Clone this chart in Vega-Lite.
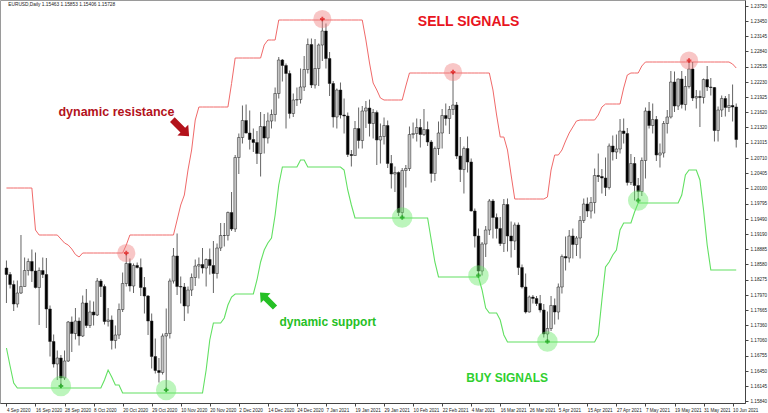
{
"$schema":"https://vega.github.io/schema/vega-lite/v6.json",
"width":745,"height":403,
"autosize":{"type":"none"},
"padding":{"left":0,"top":0,"right":23,"bottom":10},
"background":"white",
"config":{"view":{"stroke":"#9a9a9a","strokeWidth":1},"axis":{"labelFont":"Liberation Sans","labelFontSize":4.6,"labelColor":"#1a1a1a","tickColor":"#444444","domainColor":"#444444","grid":false,"labelOverlap":false,"labelFlush":false}},
"data":{"values":[
{"i":0,"o":1.1851,"h":1.1866,"l":1.1781,"c":1.1838,"r":1.2011,"s":1.1691},
{"i":1,"o":1.1838,"h":1.1843,"l":1.1810,"c":1.1818,"r":1.2011,"s":1.1655},
{"i":2,"o":1.1818,"h":1.1826,"l":1.1765,"c":1.1779,"r":1.2011,"s":1.1621},
{"i":3,"o":1.1779,"h":1.1826,"l":1.1772,"c":1.1801,"r":1.2011,"s":1.1611},
{"i":4,"o":1.1801,"h":1.1917,"l":1.1799,"c":1.1814,"r":1.2011,"s":1.1611},
{"i":5,"o":1.1814,"h":1.1872,"l":1.1814,"c":1.1846,"r":1.2011,"s":1.1611},
{"i":6,"o":1.1846,"h":1.1870,"l":1.1836,"c":1.1864,"r":1.2011,"s":1.1611},
{"i":7,"o":1.1864,"h":1.1888,"l":1.1823,"c":1.1845,"r":1.2011,"s":1.1611},
{"i":8,"o":1.1845,"h":1.1882,"l":1.1810,"c":1.1812,"r":1.1927,"s":1.1611},
{"i":9,"o":1.1812,"h":1.1852,"l":1.1737,"c":1.1846,"r":1.1917,"s":1.1611},
{"i":10,"o":1.1846,"h":1.1872,"l":1.1831,"c":1.1838,"r":1.1917,"s":1.1611},
{"i":11,"o":1.1838,"h":1.1871,"l":1.1731,"c":1.1769,"r":1.1917,"s":1.1611},
{"i":12,"o":1.1769,"h":1.1776,"l":1.1674,"c":1.1704,"r":1.1917,"s":1.1611},
{"i":13,"o":1.1704,"h":1.1718,"l":1.1652,"c":1.1659,"r":1.1917,"s":1.1611},
{"i":14,"o":1.1659,"h":1.1686,"l":1.1627,"c":1.1671,"r":1.1917,"s":1.1611},
{"i":15,"o":1.1671,"h":1.1677,"l":1.1612,"c":1.1631,"r":1.1909,"s":1.1611},
{"i":16,"o":1.1631,"h":1.1686,"l":1.1627,"c":1.1665,"r":1.1901,"s":1.1611},
{"i":17,"o":1.1665,"h":1.1745,"l":1.1663,"c":1.1743,"r":1.1897,"s":1.1611},
{"i":18,"o":1.1743,"h":1.1754,"l":1.1683,"c":1.1720,"r":1.1889,"s":1.1611},
{"i":19,"o":1.1720,"h":1.1771,"l":1.1708,"c":1.1745,"r":1.1878,"s":1.1611},
{"i":20,"o":1.1745,"h":1.1752,"l":1.1696,"c":1.1715,"r":1.1873,"s":1.1611},
{"i":21,"o":1.1715,"h":1.1796,"l":1.1713,"c":1.1781,"r":1.1881,"s":1.1611},
{"i":22,"o":1.1781,"h":1.1809,"l":1.1731,"c":1.1736,"r":1.1881,"s":1.1611},
{"i":23,"o":1.1736,"h":1.1786,"l":1.1731,"c":1.1763,"r":1.1881,"s":1.1611},
{"i":24,"o":1.1763,"h":1.1784,"l":1.1736,"c":1.1757,"r":1.1881,"s":1.1611},
{"i":25,"o":1.1757,"h":1.1831,"l":1.1755,"c":1.1825,"r":1.1881,"s":1.1611},
{"i":26,"o":1.1825,"h":1.1829,"l":1.1793,"c":1.1814,"r":1.1881,"s":1.1611},
{"i":27,"o":1.1814,"h":1.1818,"l":1.1738,"c":1.1744,"r":1.1881,"s":1.1627},
{"i":28,"o":1.1744,"h":1.1771,"l":1.1734,"c":1.1747,"r":1.1881,"s":1.1647},
{"i":29,"o":1.1747,"h":1.1756,"l":1.1688,"c":1.1706,"r":1.1881,"s":1.1633},
{"i":30,"o":1.1706,"h":1.1736,"l":1.1690,"c":1.1717,"r":1.1881,"s":1.1617},
{"i":31,"o":1.1717,"h":1.1780,"l":1.1709,"c":1.1768,"r":1.1881,"s":1.1617},
{"i":32,"o":1.1768,"h":1.1842,"l":1.1763,"c":1.1820,"r":1.1881,"s":1.1601},
{"i":33,"o":1.1820,"h":1.1881,"l":1.1814,"c":1.1860,"r":1.1897,"s":1.1601},
{"i":34,"o":1.1860,"h":1.1870,"l":1.1804,"c":1.1815,"r":1.1917,"s":1.1601},
{"i":35,"o":1.1815,"h":1.1860,"l":1.1801,"c":1.1856,"r":1.1917,"s":1.1601},
{"i":36,"o":1.1856,"h":1.1862,"l":1.1850,"c":1.1852,"r":1.1917,"s":1.1601},
{"i":37,"o":1.1852,"h":1.1870,"l":1.1795,"c":1.1812,"r":1.1917,"s":1.1601},
{"i":38,"o":1.1812,"h":1.1833,"l":1.1760,"c":1.1795,"r":1.1917,"s":1.1601},
{"i":39,"o":1.1795,"h":1.1797,"l":1.1717,"c":1.1745,"r":1.1917,"s":1.1601},
{"i":40,"o":1.1745,"h":1.1760,"l":1.1650,"c":1.1674,"r":1.1917,"s":1.1601},
{"i":41,"o":1.1674,"h":1.1710,"l":1.1640,"c":1.1646,"r":1.1917,"s":1.1601},
{"i":42,"o":1.1646,"h":1.1671,"l":1.1622,"c":1.1642,"r":1.1917,"s":1.1601},
{"i":43,"o":1.1642,"h":1.1720,"l":1.1638,"c":1.1715,"r":1.1917,"s":1.1601},
{"i":44,"o":1.1715,"h":1.1770,"l":1.1603,"c":1.1720,"r":1.1917,"s":1.1601},
{"i":45,"o":1.1720,"h":1.1830,"l":1.1710,"c":1.1825,"r":1.1917,"s":1.1601},
{"i":46,"o":1.1825,"h":1.1891,"l":1.1820,"c":1.1875,"r":1.1917,"s":1.1601},
{"i":47,"o":1.1875,"h":1.1920,"l":1.1797,"c":1.1814,"r":1.1947,"s":1.1601},
{"i":48,"o":1.1814,"h":1.1834,"l":1.1780,"c":1.1813,"r":1.1977,"s":1.1601},
{"i":49,"o":1.1813,"h":1.1821,"l":1.1745,"c":1.1775,"r":1.1997,"s":1.1601},
{"i":50,"o":1.1775,"h":1.1814,"l":1.1760,"c":1.1807,"r":1.2047,"s":1.1601},
{"i":51,"o":1.1807,"h":1.1840,"l":1.1795,"c":1.1832,"r":1.2087,"s":1.1601},
{"i":52,"o":1.1832,"h":1.1868,"l":1.1815,"c":1.1855,"r":1.2147,"s":1.1601},
{"i":53,"o":1.1855,"h":1.1872,"l":1.1830,"c":1.1858,"r":1.2173,"s":1.1601},
{"i":54,"o":1.1858,"h":1.1891,"l":1.1840,"c":1.1851,"r":1.2173,"s":1.1601},
{"i":55,"o":1.1851,"h":1.1870,"l":1.1814,"c":1.1868,"r":1.2173,"s":1.1647},
{"i":56,"o":1.1868,"h":1.1890,"l":1.1838,"c":1.1856,"r":1.2173,"s":1.1707},
{"i":57,"o":1.1856,"h":1.1905,"l":1.1801,"c":1.1840,"r":1.2173,"s":1.1741},
{"i":58,"o":1.1840,"h":1.1900,"l":1.1830,"c":1.1891,"r":1.2173,"s":1.1741},
{"i":59,"o":1.1891,"h":1.1941,"l":1.1885,"c":1.1916,"r":1.2173,"s":1.1741},
{"i":60,"o":1.1916,"h":1.1941,"l":1.1894,"c":1.1916,"r":1.2173,"s":1.1751},
{"i":61,"o":1.1916,"h":1.1964,"l":1.1906,"c":1.1962,"r":1.2173,"s":1.1777},
{"i":62,"o":1.1962,"h":1.2003,"l":1.1925,"c":1.1929,"r":1.2220,"s":1.1793},
{"i":63,"o":1.1929,"h":1.2077,"l":1.1923,"c":1.2072,"r":1.2271,"s":1.1799},
{"i":64,"o":1.2072,"h":1.2120,"l":1.2039,"c":1.2112,"r":1.2271,"s":1.1799},
{"i":65,"o":1.2112,"h":1.2176,"l":1.2100,"c":1.2146,"r":1.2271,"s":1.1799},
{"i":66,"o":1.2146,"h":1.2178,"l":1.2120,"c":1.2121,"r":1.2271,"s":1.1799},
{"i":67,"o":1.2121,"h":1.2166,"l":1.2088,"c":1.2108,"r":1.2271,"s":1.1799},
{"i":68,"o":1.2108,"h":1.2130,"l":1.2083,"c":1.2102,"r":1.2271,"s":1.1799},
{"i":69,"o":1.2102,"h":1.2125,"l":1.2059,"c":1.2080,"r":1.2271,"s":1.1827},
{"i":70,"o":1.2080,"h":1.2163,"l":1.2034,"c":1.2134,"r":1.2271,"s":1.1863},
{"i":71,"o":1.2134,"h":1.2159,"l":1.2080,"c":1.2111,"r":1.2297,"s":1.1887},
{"i":72,"o":1.2111,"h":1.2162,"l":1.2100,"c":1.2145,"r":1.2307,"s":1.1901},
{"i":73,"o":1.2145,"h":1.2168,"l":1.2130,"c":1.2158,"r":1.2307,"s":1.1911},
{"i":74,"o":1.2158,"h":1.2212,"l":1.2144,"c":1.2200,"r":1.2307,"s":1.1957},
{"i":75,"o":1.2200,"h":1.2273,"l":1.2190,"c":1.2267,"r":1.2347,"s":1.2017},
{"i":76,"o":1.2267,"h":1.2269,"l":1.2224,"c":1.2256,"r":1.2347,"s":1.2053},
{"i":77,"o":1.2256,"h":1.2260,"l":1.2130,"c":1.2240,"r":1.2347,"s":1.2053},
{"i":78,"o":1.2240,"h":1.2246,"l":1.2150,"c":1.2160,"r":1.2347,"s":1.2053},
{"i":79,"o":1.2160,"h":1.2200,"l":1.2153,"c":1.2187,"r":1.2347,"s":1.2053},
{"i":80,"o":1.2187,"h":1.2212,"l":1.2175,"c":1.2188,"r":1.2347,"s":1.2053},
{"i":81,"o":1.2188,"h":1.2250,"l":1.2180,"c":1.2213,"r":1.2347,"s":1.2067},
{"i":82,"o":1.2213,"h":1.2275,"l":1.2205,"c":1.2248,"r":1.2347,"s":1.2067},
{"i":83,"o":1.2248,"h":1.2310,"l":1.2240,"c":1.2298,"r":1.2347,"s":1.2053},
{"i":84,"o":1.2298,"h":1.2310,"l":1.2211,"c":1.2217,"r":1.2347,"s":1.2053},
{"i":85,"o":1.2217,"h":1.2309,"l":1.2210,"c":1.2250,"r":1.2347,"s":1.2053},
{"i":86,"o":1.2250,"h":1.2300,"l":1.2215,"c":1.2297,"r":1.2347,"s":1.2053},
{"i":87,"o":1.2297,"h":1.2349,"l":1.2265,"c":1.2325,"r":1.2347,"s":1.2053},
{"i":88,"o":1.2325,"h":1.2340,"l":1.2250,"c":1.2270,"r":1.2347,"s":1.2053},
{"i":89,"o":1.2270,"h":1.2283,"l":1.2195,"c":1.2220,"r":1.2347,"s":1.2053},
{"i":90,"o":1.2220,"h":1.2225,"l":1.2132,"c":1.2153,"r":1.2347,"s":1.2053},
{"i":91,"o":1.2153,"h":1.2210,"l":1.2130,"c":1.2207,"r":1.2347,"s":1.2053},
{"i":92,"o":1.2207,"h":1.2222,"l":1.2150,"c":1.2157,"r":1.2347,"s":1.2053},
{"i":93,"o":1.2157,"h":1.2190,"l":1.2120,"c":1.2155,"r":1.2347,"s":1.2047},
{"i":94,"o":1.2155,"h":1.2162,"l":1.2073,"c":1.2078,"r":1.2347,"s":1.2007},
{"i":95,"o":1.2078,"h":1.2087,"l":1.2054,"c":1.2076,"r":1.2347,"s":1.1977},
{"i":96,"o":1.2076,"h":1.2145,"l":1.2076,"c":1.2130,"r":1.2347,"s":1.1951},
{"i":97,"o":1.2130,"h":1.2172,"l":1.2090,"c":1.2106,"r":1.2347,"s":1.1951},
{"i":98,"o":1.2106,"h":1.2175,"l":1.2090,"c":1.2165,"r":1.2347,"s":1.1951},
{"i":99,"o":1.2165,"h":1.2185,"l":1.2131,"c":1.2171,"r":1.2307,"s":1.1951},
{"i":100,"o":1.2171,"h":1.2188,"l":1.2114,"c":1.2140,"r":1.2261,"s":1.1951},
{"i":101,"o":1.2140,"h":1.2169,"l":1.2110,"c":1.2162,"r":1.2221,"s":1.1951},
{"i":102,"o":1.2162,"h":1.2166,"l":1.2057,"c":1.2107,"r":1.2207,"s":1.1951},
{"i":103,"o":1.2107,"h":1.2140,"l":1.2060,"c":1.2114,"r":1.2191,"s":1.1951},
{"i":104,"o":1.2114,"h":1.2152,"l":1.2098,"c":1.2136,"r":1.2187,"s":1.1951},
{"i":105,"o":1.2136,"h":1.2146,"l":1.2051,"c":1.2060,"r":1.2187,"s":1.1951},
{"i":106,"o":1.2060,"h":1.2077,"l":1.2010,"c":1.2039,"r":1.2187,"s":1.1951},
{"i":107,"o":1.2039,"h":1.2054,"l":1.2003,"c":1.2042,"r":1.2187,"s":1.1951},
{"i":108,"o":1.2042,"h":1.2044,"l":1.1955,"c":1.1962,"r":1.2187,"s":1.1951},
{"i":109,"o":1.1962,"h":1.2051,"l":1.1952,"c":1.2046,"r":1.2187,"s":1.1951},
{"i":110,"o":1.2046,"h":1.2057,"l":1.2012,"c":1.2050,"r":1.2215,"s":1.1951},
{"i":111,"o":1.2050,"h":1.2134,"l":1.2045,"c":1.2118,"r":1.2241,"s":1.1951},
{"i":112,"o":1.2118,"h":1.2142,"l":1.2110,"c":1.2120,"r":1.2241,"s":1.1951},
{"i":113,"o":1.2120,"h":1.2150,"l":1.2104,"c":1.2132,"r":1.2241,"s":1.1951},
{"i":114,"o":1.2132,"h":1.2149,"l":1.2092,"c":1.2118,"r":1.2241,"s":1.1951},
{"i":115,"o":1.2118,"h":1.2169,"l":1.2115,"c":1.2128,"r":1.2241,"s":1.1951},
{"i":116,"o":1.2128,"h":1.2144,"l":1.2095,"c":1.2103,"r":1.2241,"s":1.1951},
{"i":117,"o":1.2103,"h":1.2107,"l":1.2022,"c":1.2040,"r":1.2241,"s":1.1907},
{"i":118,"o":1.2040,"h":1.2094,"l":1.2025,"c":1.2090,"r":1.2241,"s":1.1863},
{"i":119,"o":1.2090,"h":1.2144,"l":1.2077,"c":1.2121,"r":1.2241,"s":1.1833},
{"i":120,"o":1.2121,"h":1.2169,"l":1.2090,"c":1.2156,"r":1.2241,"s":1.1833},
{"i":121,"o":1.2156,"h":1.2180,"l":1.2136,"c":1.2150,"r":1.2241,"s":1.1833},
{"i":122,"o":1.2150,"h":1.2175,"l":1.2119,"c":1.2168,"r":1.2241,"s":1.1833},
{"i":123,"o":1.2168,"h":1.2243,"l":1.2157,"c":1.2177,"r":1.2241,"s":1.1833},
{"i":124,"o":1.2177,"h":1.2183,"l":1.2069,"c":1.2075,"r":1.2241,"s":1.1833},
{"i":125,"o":1.2075,"h":1.2113,"l":1.2023,"c":1.2048,"r":1.2241,"s":1.1833},
{"i":126,"o":1.2048,"h":1.2094,"l":1.2000,"c":1.2090,"r":1.2241,"s":1.1833},
{"i":127,"o":1.2090,"h":1.2114,"l":1.2042,"c":1.2063,"r":1.2241,"s":1.1833},
{"i":128,"o":1.2063,"h":1.2070,"l":1.1964,"c":1.1965,"r":1.2241,"s":1.1833},
{"i":129,"o":1.1965,"h":1.1970,"l":1.1892,"c":1.1915,"r":1.2241,"s":1.1833},
{"i":130,"o":1.1915,"h":1.1930,"l":1.1836,"c":1.1845,"r":1.2241,"s":1.1833},
{"i":131,"o":1.1845,"h":1.1903,"l":1.1836,"c":1.1899,"r":1.2241,"s":1.1807},
{"i":132,"o":1.1899,"h":1.1935,"l":1.1873,"c":1.1927,"r":1.2241,"s":1.1771},
{"i":133,"o":1.1927,"h":1.1989,"l":1.1917,"c":1.1985,"r":1.2241,"s":1.1761},
{"i":134,"o":1.1985,"h":1.1989,"l":1.1910,"c":1.1952,"r":1.2207,"s":1.1761},
{"i":135,"o":1.1952,"h":1.1960,"l":1.1910,"c":1.1930,"r":1.2157,"s":1.1761},
{"i":136,"o":1.1930,"h":1.1953,"l":1.1895,"c":1.1900,"r":1.2113,"s":1.1747},
{"i":137,"o":1.1900,"h":1.1989,"l":1.1883,"c":1.1978,"r":1.2113,"s":1.1717},
{"i":138,"o":1.1978,"h":1.1990,"l":1.1884,"c":1.1915,"r":1.2087,"s":1.1703},
{"i":139,"o":1.1915,"h":1.1944,"l":1.1872,"c":1.1905,"r":1.2037,"s":1.1703},
{"i":140,"o":1.1905,"h":1.1942,"l":1.1887,"c":1.1937,"r":1.1989,"s":1.1703},
{"i":141,"o":1.1937,"h":1.1942,"l":1.1837,"c":1.1852,"r":1.1989,"s":1.1703},
{"i":142,"o":1.1852,"h":1.1858,"l":1.1810,"c":1.1813,"r":1.1989,"s":1.1703},
{"i":143,"o":1.1813,"h":1.1840,"l":1.1760,"c":1.1763,"r":1.1989,"s":1.1703},
{"i":144,"o":1.1763,"h":1.1796,"l":1.1762,"c":1.1793,"r":1.1989,"s":1.1703},
{"i":145,"o":1.1793,"h":1.1797,"l":1.1780,"c":1.1790,"r":1.1989,"s":1.1703},
{"i":146,"o":1.1790,"h":1.1795,"l":1.1775,"c":1.1780,"r":1.1989,"s":1.1703},
{"i":147,"o":1.1780,"h":1.1797,"l":1.1762,"c":1.1767,"r":1.1989,"s":1.1703},
{"i":148,"o":1.1767,"h":1.1779,"l":1.1712,"c":1.1719,"r":1.1989,"s":1.1703},
{"i":149,"o":1.1719,"h":1.1764,"l":1.1704,"c":1.1730,"r":1.1993,"s":1.1703},
{"i":150,"o":1.1730,"h":1.1795,"l":1.1725,"c":1.1776,"r":1.2047,"s":1.1703},
{"i":151,"o":1.1776,"h":1.1790,"l":1.1738,"c":1.1763,"r":1.2077,"s":1.1703},
{"i":152,"o":1.1763,"h":1.1820,"l":1.1748,"c":1.1813,"r":1.2077,"s":1.1703},
{"i":153,"o":1.1813,"h":1.1878,"l":1.1800,"c":1.1874,"r":1.2087,"s":1.1703},
{"i":154,"o":1.1874,"h":1.1914,"l":1.1846,"c":1.1871,"r":1.2105,"s":1.1703},
{"i":155,"o":1.1871,"h":1.1927,"l":1.1862,"c":1.1915,"r":1.2121,"s":1.1703},
{"i":156,"o":1.1915,"h":1.1930,"l":1.1870,"c":1.1898,"r":1.2133,"s":1.1703},
{"i":157,"o":1.1898,"h":1.1915,"l":1.1875,"c":1.1911,"r":1.2145,"s":1.1703},
{"i":158,"o":1.1911,"h":1.1955,"l":1.1870,"c":1.1946,"r":1.2147,"s":1.1703},
{"i":159,"o":1.1946,"h":1.1990,"l":1.1941,"c":1.1979,"r":1.2147,"s":1.1703},
{"i":160,"o":1.1979,"h":1.1992,"l":1.1953,"c":1.1965,"r":1.2147,"s":1.1703},
{"i":161,"o":1.1965,"h":1.1993,"l":1.1950,"c":1.1982,"r":1.2147,"s":1.1703},
{"i":162,"o":1.1982,"h":1.2050,"l":1.1960,"c":1.2036,"r":1.2147,"s":1.1703},
{"i":163,"o":1.2036,"h":1.2080,"l":1.2023,"c":1.2034,"r":1.2157,"s":1.1717},
{"i":164,"o":1.2034,"h":1.2049,"l":1.2000,"c":1.2031,"r":1.2173,"s":1.1787},
{"i":165,"o":1.2031,"h":1.2072,"l":1.1995,"c":1.2012,"r":1.2179,"s":1.1853},
{"i":166,"o":1.2012,"h":1.2100,"l":1.2008,"c":1.2095,"r":1.2179,"s":1.1863},
{"i":167,"o":1.2095,"h":1.2116,"l":1.2066,"c":1.2083,"r":1.2179,"s":1.1877},
{"i":168,"o":1.2083,"h":1.2118,"l":1.2069,"c":1.2089,"r":1.2179,"s":1.1887},
{"i":169,"o":1.2089,"h":1.2149,"l":1.2080,"c":1.2125,"r":1.2179,"s":1.1927},
{"i":170,"o":1.2125,"h":1.2150,"l":1.2100,"c":1.2120,"r":1.2211,"s":1.1941},
{"i":171,"o":1.2120,"h":1.2131,"l":1.2016,"c":1.2022,"r":1.2237,"s":1.1941},
{"i":172,"o":1.2022,"h":1.2079,"l":1.2017,"c":1.2060,"r":1.2241,"s":1.1941},
{"i":173,"o":1.2060,"h":1.2073,"l":1.1986,"c":1.2016,"r":1.2241,"s":1.1963},
{"i":174,"o":1.2016,"h":1.2031,"l":1.1986,"c":1.2004,"r":1.2241,"s":1.1981},
{"i":175,"o":1.2004,"h":1.2072,"l":1.1995,"c":1.2066,"r":1.2255,"s":1.1981},
{"i":176,"o":1.2066,"h":1.2172,"l":1.2030,"c":1.2165,"r":1.2263,"s":1.1981},
{"i":177,"o":1.2165,"h":1.2183,"l":1.2130,"c":1.2136,"r":1.2263,"s":1.1981},
{"i":178,"o":1.2136,"h":1.2180,"l":1.2120,"c":1.2148,"r":1.2263,"s":1.1981},
{"i":179,"o":1.2148,"h":1.2155,"l":1.2065,"c":1.2077,"r":1.2263,"s":1.1981},
{"i":180,"o":1.2077,"h":1.2100,"l":1.2052,"c":1.2081,"r":1.2263,"s":1.1981},
{"i":181,"o":1.2081,"h":1.2145,"l":1.2072,"c":1.2140,"r":1.2263,"s":1.1981},
{"i":182,"o":1.2140,"h":1.2167,"l":1.2120,"c":1.2153,"r":1.2263,"s":1.1981},
{"i":183,"o":1.2153,"h":1.2245,"l":1.2150,"c":1.2223,"r":1.2263,"s":1.1981},
{"i":184,"o":1.2223,"h":1.2244,"l":1.2163,"c":1.2175,"r":1.2263,"s":1.1981},
{"i":185,"o":1.2175,"h":1.2230,"l":1.2167,"c":1.2229,"r":1.2263,"s":1.1981},
{"i":186,"o":1.2229,"h":1.2245,"l":1.2170,"c":1.2178,"r":1.2263,"s":1.1997},
{"i":187,"o":1.2178,"h":1.2235,"l":1.2166,"c":1.2214,"r":1.2263,"s":1.2037},
{"i":188,"o":1.2214,"h":1.2266,"l":1.2210,"c":1.2249,"r":1.2263,"s":1.2047},
{"i":189,"o":1.2249,"h":1.2263,"l":1.2185,"c":1.2191,"r":1.2263,"s":1.2047},
{"i":190,"o":1.2191,"h":1.2207,"l":1.2170,"c":1.2194,"r":1.2263,"s":1.2047},
{"i":191,"o":1.2194,"h":1.2206,"l":1.2133,"c":1.2192,"r":1.2263,"s":1.2027},
{"i":192,"o":1.2192,"h":1.2230,"l":1.2180,"c":1.2228,"r":1.2263,"s":1.1967},
{"i":193,"o":1.2228,"h":1.2255,"l":1.2205,"c":1.2213,"r":1.2263,"s":1.1897},
{"i":194,"o":1.2213,"h":1.2231,"l":1.2196,"c":1.2212,"r":1.2263,"s":1.1847},
{"i":195,"o":1.2212,"h":1.2213,"l":1.2104,"c":1.2126,"r":1.2263,"s":1.1847},
{"i":196,"o":1.2126,"h":1.2174,"l":1.2104,"c":1.2167,"r":1.2263,"s":1.1847},
{"i":197,"o":1.2167,"h":1.2196,"l":1.2153,"c":1.2190,"r":1.2263,"s":1.1847},
{"i":198,"o":1.2190,"h":1.2195,"l":1.2154,"c":1.2172,"r":1.2263,"s":1.1847},
{"i":199,"o":1.2172,"h":1.2199,"l":1.2163,"c":1.2176,"r":1.2263,"s":1.1847},
{"i":200,"o":1.2176,"h":1.2218,"l":1.2144,"c":1.2173,"r":1.2259,"s":1.1847},
{"i":201,"o":1.2173,"h":1.2180,"l":1.2092,"c":1.2108,"r":1.2251,"s":1.1847}
]},
"encoding":{"x":{"field":"i","type":"quantitative","scale":{"domain":[-0.4,202.04],"nice":false,"zero":false},
"axis":{"orient":"bottom","values":[0,8,16,24,32,40,48,56,64,72,80,88,96,104,112,120,128,136,144,152,160,168,176,184,192,200],
"labelExpr":"['4 Sep 2020','16 Sep 2020','28 Sep 2020','8 Oct 2020','20 Oct 2020','29 Oct 2020','10 Nov 2020','20 Nov 2020','2 Dec 2020','14 Dec 2020','24 Dec 2020','7 Jan 2021','19 Jan 2021','29 Jan 2021','10 Feb 2021','22 Feb 2021','4 Mar 2021','16 Mar 2021','26 Mar 2021','5 Apr 2021','15 Apr 2021','27 Apr 2021','7 May 2021','19 May 2021','31 May 2021','10 Jun 2021'][round(datum.value/8)]",
"labelAlign":"left","labelPadding":1,"tickSize":3,"labelOverlap":false,"labelFlush":false,"title":null}}},
"layer":[
{"mark":{"type":"line","color":"#f06a6a","strokeWidth":1},
 "encoding":{"y":{"field":"r","type":"quantitative","scale":{"domain":[1.1581,1.2387],"nice":false,"zero":false},
 "axis":{"orient":"right","values":[1.2375,1.2345,1.23145,1.2284,1.22535,1.2223,1.21925,1.2162,1.2132,1.21015,1.2071,1.20405,1.201,1.19795,1.1949,1.1919,1.18885,1.1858,1.18275,1.1797,1.17665,1.1736,1.1706,1.16755,1.1645,1.16145,1.1584],"format":".5f","tickSize":3,"labelPadding":2,"labelOverlap":false,"labelFlush":false,"title":null}}}},
{"mark":{"type":"line","color":"#62e062","strokeWidth":1.1},
 "encoding":{"y":{"field":"s","type":"quantitative","scale":{"domain":[1.1581,1.2387],"nice":false,"zero":false},
 "axis":{"orient":"right","values":[1.2375,1.2345,1.23145,1.2284,1.22535,1.2223,1.21925,1.2162,1.2132,1.21015,1.2071,1.20405,1.201,1.19795,1.1949,1.1919,1.18885,1.1858,1.18275,1.1797,1.17665,1.1736,1.1706,1.16755,1.1645,1.16145,1.1584],"format":".5f","tickSize":3,"labelPadding":2,"labelOverlap":false,"labelFlush":false,"title":null}}}},
{"mark":{"type":"rule","color":"#222222","strokeWidth":0.7},
 "encoding":{"y":{"field":"l","type":"quantitative","scale":{"domain":[1.1581,1.2387],"nice":false,"zero":false},
 "axis":{"orient":"right","values":[1.2375,1.2345,1.23145,1.2284,1.22535,1.2223,1.21925,1.2162,1.2132,1.21015,1.2071,1.20405,1.201,1.19795,1.1949,1.1919,1.18885,1.1858,1.18275,1.1797,1.17665,1.1736,1.1706,1.16755,1.1645,1.16145,1.1584],"format":".5f","tickSize":3,"labelPadding":2,"labelOverlap":false,"labelFlush":false,"title":null}},"y2":{"field":"h"}}},
{"mark":{"type":"bar","size":2.7,"stroke":"#222222","strokeWidth":0.5},
 "encoding":{"y":{"field":"o","type":"quantitative","scale":{"domain":[1.1581,1.2387],"nice":false,"zero":false},
 "axis":{"orient":"right","values":[1.2375,1.2345,1.23145,1.2284,1.22535,1.2223,1.21925,1.2162,1.2132,1.21015,1.2071,1.20405,1.201,1.19795,1.1949,1.1919,1.18885,1.1858,1.18275,1.1797,1.17665,1.1736,1.1706,1.16755,1.1645,1.16145,1.1584],"format":".5f","tickSize":3,"labelPadding":2,"labelOverlap":false,"labelFlush":false,"title":null}},"y2":{"field":"c"},
 "fill":{"condition":{"test":"datum.c < datum.o","value":"#000000"},"value":"#c4c4c4"}}},
{"data":{"values":[
{"i":33,"p":1.1881,"k":"sell","t":""},{"i":87,"p":1.2349,"k":"sell","t":""},{"i":123,"p":1.2243,"k":"sell","t":""},{"i":188,"p":1.2266,"k":"sell","t":""},
{"i":15,"p":1.1615,"k":"buy","t":""},{"i":44,"p":1.1607,"k":"buy","t":""},{"i":109,"p":1.1952,"k":"buy","t":""},{"i":130,"p":1.1836,"k":"buy","t":""},{"i":149,"p":1.1704,"k":"buy","t":""},{"i":174,"p":1.1986,"k":"buy","t":""},
{"i":127.3,"p":1.2343,"k":"sellText","t":"SELL SIGNALS"},{"i":137.9,"p":1.1631,"k":"buyText","t":"BUY SIGNALS"},
{"i":30.3,"p":1.2163,"k":"resText","t":"dynamic resistance"},{"i":88.5,"p":1.1743,"k":"supText","t":"dynamic support"},
{"i":0.5,"p":1.2377,"k":"title","t":"EURUSD,Daily  1.15463 1.15853 1.15406 1.15728"},
{"i":48,"p":1.2131,"k":"resArrow","t":""},{"i":71.9,"p":1.1787,"k":"supArrow","t":""}]},
 "encoding":{"y":{"field":"p","type":"quantitative","scale":{"domain":[1.1581,1.2387],"nice":false,"zero":false},
 "axis":{"orient":"right","values":[1.2375,1.2345,1.23145,1.2284,1.22535,1.2223,1.21925,1.2162,1.2132,1.21015,1.2071,1.20405,1.201,1.19795,1.1949,1.1919,1.18885,1.1858,1.18275,1.1797,1.17665,1.1736,1.1706,1.16755,1.1645,1.16145,1.1584],"format":".5f","tickSize":3,"labelPadding":2,"labelOverlap":false,"labelFlush":false,"title":null}}},
 "layer":[
 {"transform":[{"filter":"datum.k=='sell' || datum.k=='buy'"}],
  "mark":{"type":"circle","opacity":0.45},
  "encoding":{"color":{"condition":{"test":"datum.k=='sell'","value":"#f08080"},"value":"#6be86b"},
  "size":{"condition":{"test":"datum.k=='sell'","value":330},"value":420}}},
 {"transform":[{"filter":"datum.k=='sell' || datum.k=='buy'"}],
  "mark":{"type":"point","shape":"cross","filled":true,"size":22},
  "encoding":{"color":{"condition":{"test":"datum.k=='sell'","value":"#e01010"},"value":"#10a010"}}},
 {"transform":[{"filter":"datum.k=='sellText'"}],
  "mark":{"type":"text","font":"Liberation Sans","fontWeight":"bold","fontSize":14,"color":"#e8141e","align":"center","baseline":"middle"},
  "encoding":{"text":{"field":"t"}}},
 {"transform":[{"filter":"datum.k=='buyText'"}],
  "mark":{"type":"text","font":"Liberation Sans","fontWeight":"bold","fontSize":12,"color":"#2fcf2f","align":"center","baseline":"middle"},
  "encoding":{"text":{"field":"t"}}},
 {"transform":[{"filter":"datum.k=='resText'"}],
  "mark":{"type":"text","font":"Liberation Sans","fontWeight":"bold","fontSize":12.5,"color":"#b3121b","align":"center","baseline":"middle"},
  "encoding":{"text":{"field":"t"}}},
 {"transform":[{"filter":"datum.k=='supText'"}],
  "mark":{"type":"text","font":"Liberation Sans","fontWeight":"bold","fontSize":12,"color":"#25c025","align":"center","baseline":"middle"},
  "encoding":{"text":{"field":"t"}}},
 {"transform":[{"filter":"datum.k=='title'"}],
  "mark":{"type":"text","font":"Liberation Sans","fontSize":4.8,"color":"#1a1a1a","align":"left","baseline":"middle"},
  "encoding":{"text":{"field":"t"}}},
 {"transform":[{"filter":"datum.k=='resArrow'"}],
  "mark":{"type":"point","shape":"M-1,-0.28L0.25,-0.28L0.25,-0.65L1,0L0.25,0.65L0.25,0.28L-1,0.28Z","filled":true,"color":"#b3121b","opacity":1,"size":560,"angle":45},
  "encoding":{}},
 {"transform":[{"filter":"datum.k=='supArrow'"}],
  "mark":{"type":"point","shape":"M-1,-0.28L0.25,-0.28L0.25,-0.65L1,0L0.25,0.65L0.25,0.28L-1,0.28Z","filled":true,"color":"#25c025","opacity":1,"size":450,"angle":225},
  "encoding":{}}
 ]}
]
}
